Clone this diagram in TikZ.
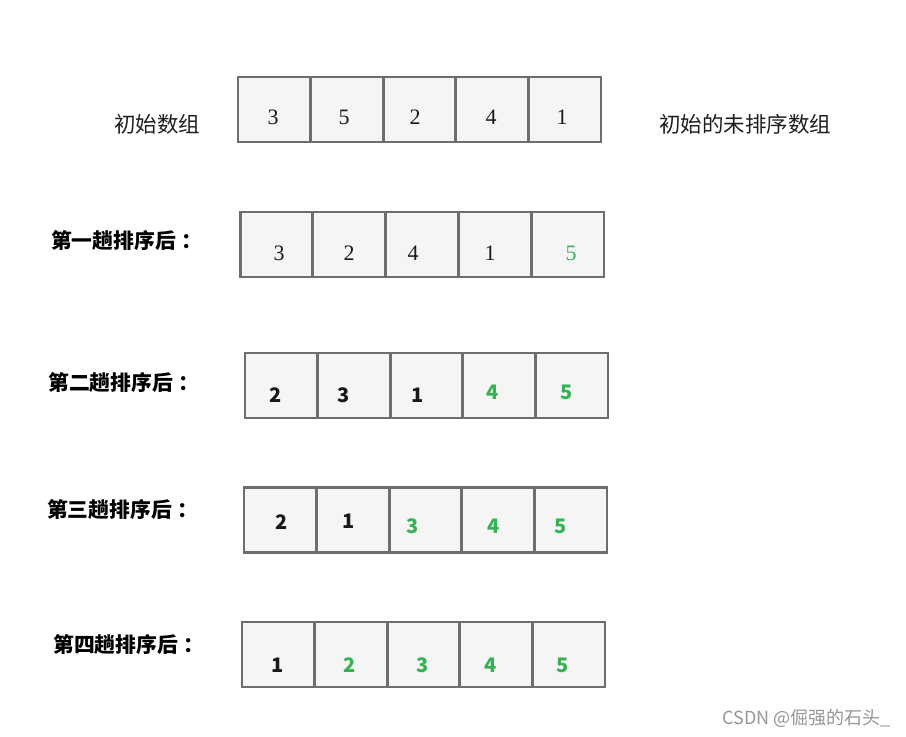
\documentclass[tikz,border=0pt]{standalone}
\usepackage{fontspec}
\setmainfont{Liberation Serif}
\newfontfamily\cjk{Noto Sans CJK SC}
\definecolor{cellfill}{RGB}{245,245,245}
\definecolor{cellborder}{RGB}{110,110,110}
\definecolor{numgreen}{RGB}{52,178,84}
\definecolor{wmgray}{RGB}{150,150,150}
\tikzset{
  cell/.style={draw=cellborder, fill=cellfill, line width=2.8pt, inner sep=0pt,
    minimum width=72.6pt, minimum height=65pt},
  snum/.style={inner sep=0pt, font=\fontsize{22}{22}\selectfont, text=black!90},
  bnum/.style={inner sep=0pt, font=\cjk\bfseries\fontsize{20}{20}\selectfont, text=black!90},
  grn/.style={text=numgreen},
  plainlab/.style={inner sep=0pt, font=\cjk\fontsize{21.5}{21.5}\selectfont, text=black!88},
  boldlab/.style={inner sep=0pt, font=\cjk\bfseries\fontsize{20.8}{20.8}\selectfont, text=black},
  wm/.style={inner sep=0pt, font=\cjk\fontsize{18}{18}\selectfont, text=wmgray}
}
\newcommand{\clnspace}{\hspace{0.25em}：}
\begin{document}
\begin{tikzpicture}[x=1pt,y=-1pt]
\useasboundingbox (0,0) rectangle (906,737);
\fill[white] (0,0) rectangle (906,737);

% row 0
\foreach \i in {0,...,4}
  \node[cell] (a\i) at ({238+72.6*(\i+0.5)},109.5) {};
\node[snum] (na0) at (273,117) {3};
\node[snum] (na1) at (344,117) {5};
\node[snum] (na2) at (415,117) {2};
\node[snum] (na3) at (491,117) {4};
\node[snum] (na4) at (562,117) {1};
\node[plainlab, anchor=west] (la) at (114,124) {初始数组};
\node[plainlab, anchor=west] (ra) at (659,124) {初始的未排序数组};

% row 1
\foreach \i in {0,...,4}
  \node[cell] (b\i) at ({240+72.8*(\i+0.5)},244.5) {};
\node[snum] (nb0) at (279,253) {3};
\node[snum] (nb1) at (349,253) {2};
\node[snum] (nb2) at (413,253) {4};
\node[snum] (nb3) at (490,253) {1};
\node[snum, grn] (nb4) at (571,253) {5};
\node[boldlab, anchor=west] (lb) at (51,241) {第一趟排序后\clnspace};

% row 2
\foreach \i in {0,...,4}
  \node[cell] (c\i) at ({245+72.6*(\i+0.5)},385.5) {};
\node[bnum] (nc0) at (276,395) {2};
\node[bnum] (nc1) at (344,395) {3};
\node[bnum] (nc2) at (418,395) {1};
\node[bnum, grn] (nc3) at (493,392) {4};
\node[bnum, grn] (nc4) at (567,392) {5};
\node[boldlab, anchor=west] (lc) at (48,383) {第二趟排序后\clnspace};

% row 3
\foreach \i in {0,...,4}
  \node[cell] (d\i) at ({244+72.6*(\i+0.5)},520) {};
\node[bnum] (nd0) at (282,522) {2};
\node[bnum] (nd1) at (349,521) {1};
\node[bnum, grn] (nd2) at (413,526) {3};
\node[bnum, grn] (nd3) at (494,526) {4};
\node[bnum, grn] (nd4) at (561,526) {5};
\node[boldlab, anchor=west] (ld) at (47,510) {第三趟排序后\clnspace};

% row 4
\foreach \i in {0,...,4}
  \node[cell] (e\i) at ({242+72.6*(\i+0.5)},654.5) {};
\node[bnum] (ne0) at (278,665) {1};
\node[bnum, grn] (ne1) at (350,665) {2};
\node[bnum, grn] (ne2) at (423,665) {3};
\node[bnum, grn] (ne3) at (491,665) {4};
\node[bnum, grn] (ne4) at (563,665) {5};
\node[boldlab, anchor=west] (le) at (53,645) {第四趟排序后\clnspace};

% watermark
\node[wm, anchor=east] (wmk) at (891,718) {CSDN @倔强的石头\_};
\end{tikzpicture}
\end{document}
